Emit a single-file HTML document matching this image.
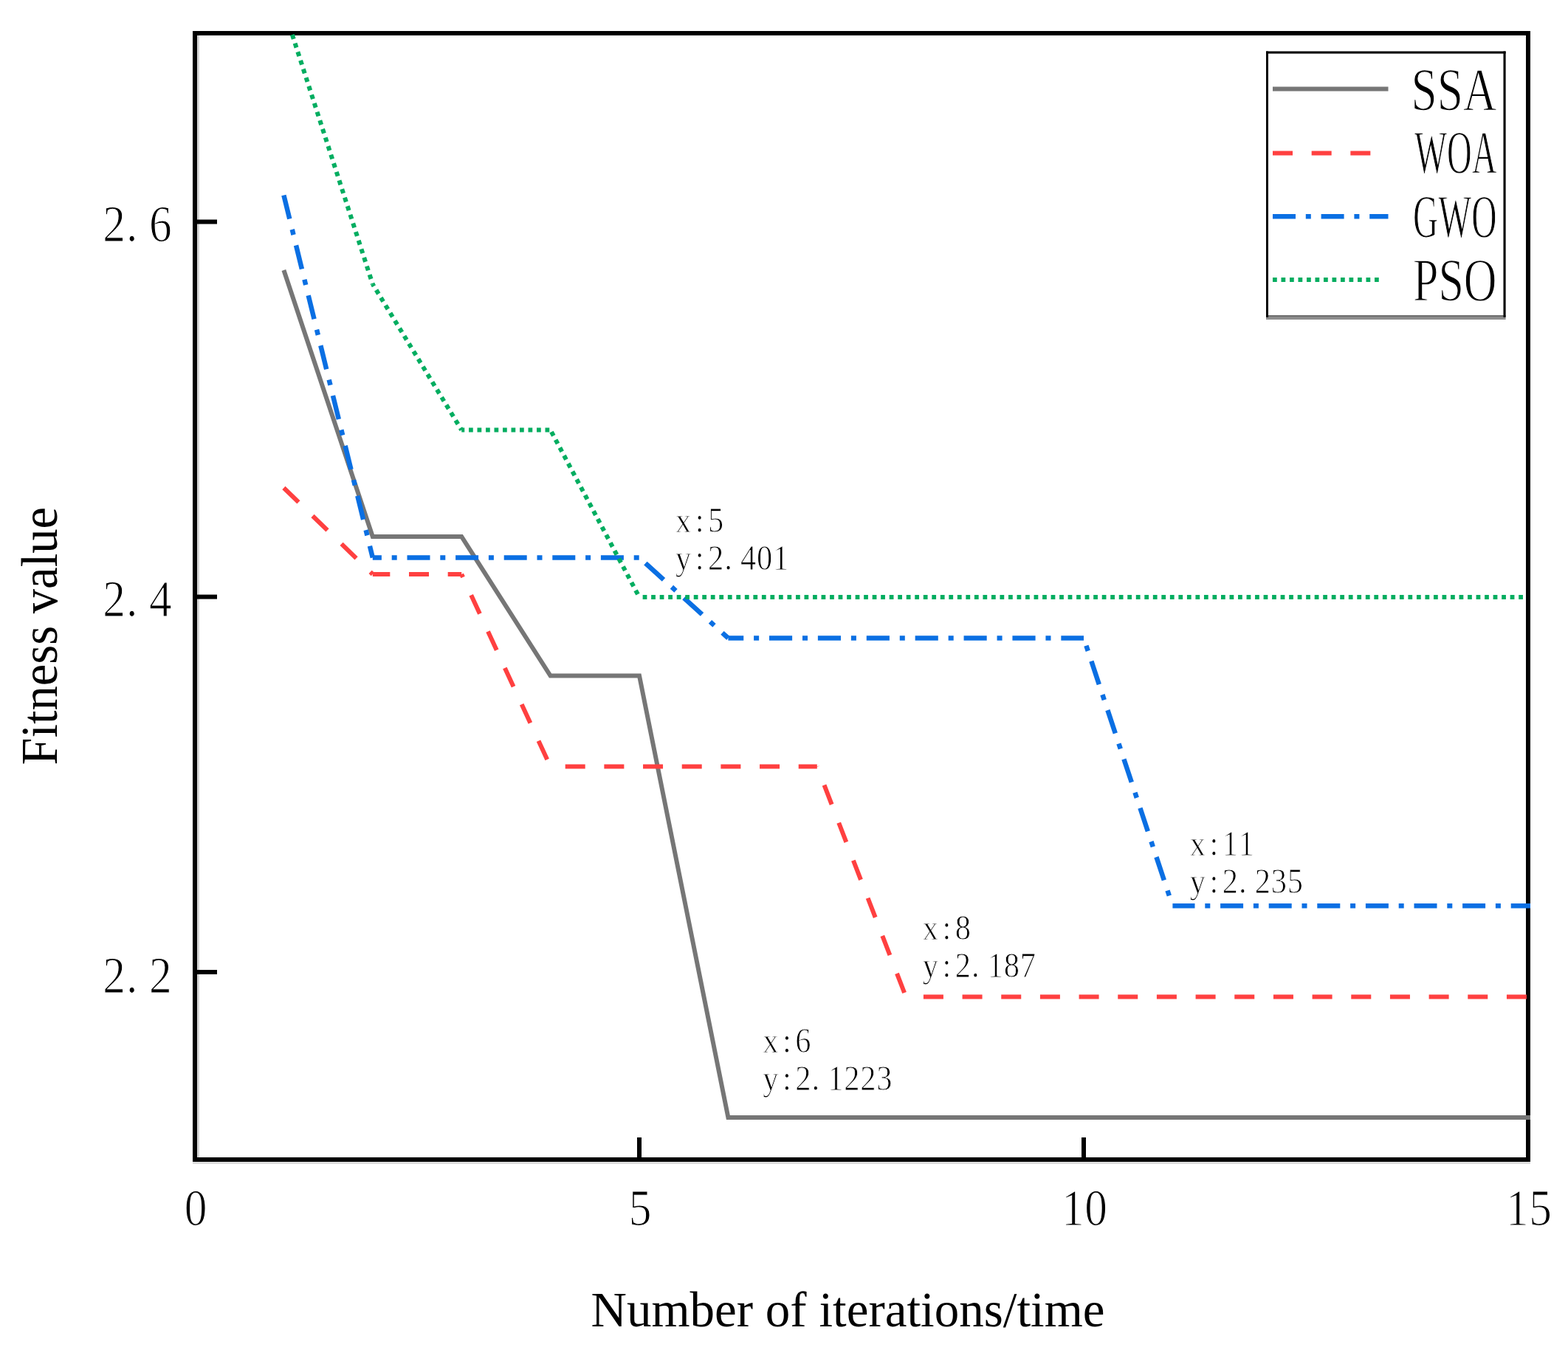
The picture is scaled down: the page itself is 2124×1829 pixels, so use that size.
<!DOCTYPE html>
<html><head><meta charset="utf-8"><title>Fitness value vs iterations</title>
<style>
html,body{margin:0;padding:0;background:#fff;}
body{width:2124px;height:1829px;overflow:hidden;}
svg{display:block;}
text{font-family:"Liberation Serif", "Noto Serif CJK SC", serif;fill:#000;}
</style></head><body>
<svg width="2124" height="1829" viewBox="0 0 2124 1829">
<rect x="0" y="0" width="2124" height="1829" fill="#fff"/>
<defs><clipPath id="pc"><rect x="264" y="45" width="1809" height="1526"/></clipPath></defs>

<rect x="267" y="48" width="3" height="1520" fill="#d3d3d3"/>
<rect x="261" y="1574" width="1812" height="3" fill="#dcdcdc"/>
<rect x="264" y="45" width="1806" height="1526" fill="none" stroke="#000" stroke-width="6"/>
<line x1="264" y1="300.5" x2="294" y2="300.5" stroke="#000" stroke-width="6"/>
<line x1="264" y1="808.6" x2="294" y2="808.6" stroke="#000" stroke-width="6"/>
<line x1="264" y1="1317.0" x2="294" y2="1317.0" stroke="#000" stroke-width="6"/>
<line x1="866.0" y1="1571" x2="866.0" y2="1541" stroke="#000" stroke-width="6"/>
<line x1="1468.0" y1="1571" x2="1468.0" y2="1541" stroke="#000" stroke-width="6"/>
<g clip-path="url(#pc)" fill="none" stroke-linecap="butt">
<path d="M384.4,366.0 L504.8,727.0 L625.2,727.0 L745.6,915.5 L866.0,915.5 L986.4,1514.0 L2073.0,1514.0" stroke="#767676" stroke-width="6" stroke-linejoin="miter"/>
<path d="M384.4,661.0 L504.8,778.0" stroke="#ff4040" stroke-width="6.0" stroke-dasharray="27.94 26.56" stroke-dashoffset="0.00"/>
<path d="M504.8,778.0 L625.2,778.0" stroke="#ff4040" stroke-width="6.0" stroke-dasharray="27.00 25.67" stroke-dashoffset="3.47"/>
<path d="M625.2,778.0 L745.6,1038.5" stroke="#ff4040" stroke-width="6.0" stroke-dasharray="27.89 26.51" stroke-dashoffset="23.40"/>
<path d="M745.6,1038.5 L1106.8,1038.5" stroke="#ff4040" stroke-width="6.0" stroke-dasharray="27.00 25.67" stroke-dashoffset="32.57"/>
<path d="M1106.8,1038.5 L1227.2,1350.5" stroke="#ff4040" stroke-width="6.0" stroke-dasharray="28.04 26.66" stroke-dashoffset="27.70"/>
<path d="M1227.2,1350.5 L2073.0,1350.5" stroke="#ff4040" stroke-width="6.0" stroke-dasharray="27.00 25.67" stroke-dashoffset="28.97"/>
<path d="M384.4,264.5 L504.8,755.5" stroke="#0a6fe3" stroke-width="6.5" stroke-dasharray="33.03 14.70 7.46 14.70" stroke-dashoffset="0.00"/>
<path d="M504.8,755.5 L866.0,755.5" stroke="#0a6fe3" stroke-width="6.5" stroke-dasharray="31.00 13.80 7.00 13.80" stroke-dashoffset="18.90"/>
<path d="M866.0,755.5 L986.4,864.5" stroke="#0a6fe3" stroke-width="6.5" stroke-dasharray="33.17 14.77 7.49 14.77" stroke-dashoffset="58.90"/>
<path d="M986.4,864.5 L1468.0,864.5" stroke="#0a6fe3" stroke-width="6.5" stroke-dasharray="31.14 13.86 7.03 13.86" stroke-dashoffset="10.30"/>
<path d="M1468.0,864.5 L1588.4,1227.3" stroke="#0a6fe3" stroke-width="6.5" stroke-dasharray="33.03 14.70 7.46 14.70" stroke-dashoffset="36.90"/>
<path d="M1588.4,1227.3 L2073.0,1227.3" stroke="#0a6fe3" stroke-width="6.5" stroke-dasharray="31.00 13.80 7.00 13.80" stroke-dashoffset="0.90"/>
<path d="M384.4,11.4 L504.8,385.0" stroke="#00ad60" stroke-width="6.0" stroke-dasharray="6.10 6.10" stroke-dashoffset="11.35"/>
<path d="M504.8,385.0 L625.2,582.5" stroke="#00ad60" stroke-width="6.0" stroke-dasharray="6.08 6.08" stroke-dashoffset="2.87"/>
<path d="M625.2,582.5 L745.6,582.5" stroke="#00ad60" stroke-width="6.0" stroke-dasharray="5.75 5.75" stroke-dashoffset="1.70"/>
<path d="M745.6,582.5 L866.0,809.0" stroke="#00ad60" stroke-width="6.0" stroke-dasharray="6.08 6.08" stroke-dashoffset="9.27"/>
<path d="M866.0,809.0 L2064.0,809.0" stroke="#00ad60" stroke-width="6.0" stroke-dasharray="5.76 5.76" stroke-dashoffset="6.89"/>
</g>
<g transform="scale(0.890 1)"><text x="173.60 200.76 244.16" y="326.8" font-size="69.0" text-anchor="middle" stroke="#fff" stroke-width="1.2">2.6</text></g>
<g transform="scale(0.890 1)"><text x="173.60 200.76 244.16" y="835.2" font-size="69.0" text-anchor="middle" stroke="#fff" stroke-width="1.2">2.4</text></g>
<g transform="scale(0.890 1)"><text x="173.60 200.76 244.16" y="1345.0" font-size="69.0" text-anchor="middle" stroke="#fff" stroke-width="1.2">2.2</text></g>
<g transform="scale(0.890 1)"><text x="297.75" y="1660.0" font-size="69.0" text-anchor="middle" stroke="#fff" stroke-width="1.2">0</text></g>
<g transform="scale(0.890 1)"><text x="974.16" y="1660.0" font-size="69.0" text-anchor="middle" stroke="#fff" stroke-width="1.2">5</text></g>
<g transform="scale(0.890 1)"><text x="1632.92 1668.20" y="1660.0" font-size="69.0" text-anchor="middle" stroke="#fff" stroke-width="1.2">10</text></g>
<g transform="scale(0.890 1)"><text x="2309.33 2344.61" y="1660.0" font-size="69.0" text-anchor="middle" stroke="#fff" stroke-width="1.2">15</text></g>
<text x="0" y="0" font-size="69" transform="translate(77.4 1036.5) rotate(-90)" textLength="349.5" lengthAdjust="spacingAndGlyphs">Fitness value</text>
<text x="800.5" y="1796.9" font-size="68" textLength="696" lengthAdjust="spacingAndGlyphs">Number of iterations/time</text>
<rect x="1715" y="69.5" width="324.6" height="363.5" fill="#fff"/>
<rect x="1715" y="427" width="324.6" height="2.8" fill="#6e6e6e"/>
<rect x="1715" y="429.8" width="324.6" height="3.2" fill="#8e8e8e"/>
<rect x="1715" y="69.5" width="324.6" height="3.1" fill="#000"/>
<rect x="1715" y="69.5" width="3" height="360.3" fill="#000"/>
<rect x="2036.5" y="69.5" width="3.1" height="360.3" fill="#000"/>
<line x1="1724" y1="120.4" x2="1880.5" y2="120.4" stroke="#767676" stroke-width="6"/>
<line x1="1724" y1="207.6" x2="1880.5" y2="207.6" stroke="#ff4040" stroke-width="6" stroke-dasharray="27 25.67"/>
<line x1="1724" y1="293.2" x2="1880.5" y2="293.2" stroke="#0a6fe3" stroke-width="6.5" stroke-dasharray="31 13.8 7 13.8"/>
<line x1="1724" y1="379.1" x2="1872" y2="379.1" stroke="#00ad60" stroke-width="6" stroke-dasharray="5.75 5.75"/>
<text x="1911.5" y="148.6" font-size="82" textLength="116.0" lengthAdjust="spacingAndGlyphs" stroke="#fff" stroke-width="1.4">SSA</text>
<text x="1916.0" y="233.6" font-size="82" textLength="111.5" lengthAdjust="spacingAndGlyphs" stroke="#fff" stroke-width="1.4">WOA</text>
<text x="1914.0" y="321.2" font-size="82" textLength="113.5" lengthAdjust="spacingAndGlyphs" stroke="#fff" stroke-width="1.4">GWO</text>
<text x="1914.0" y="406.5" font-size="82" textLength="113.5" lengthAdjust="spacingAndGlyphs" stroke="#fff" stroke-width="1.4">PSO</text>
<g transform="scale(0.880 1)"><text x="1051.93 1076.93 1101.93" y="721.0" font-size="48.4" text-anchor="middle" fill="#111" stroke="#fff" stroke-width="1">x:5</text></g>
<g transform="scale(0.880 1)"><text x="1051.93 1076.93 1101.93 1121.18 1151.93 1176.93 1201.93" y="772.0" font-size="48.4" text-anchor="middle" fill="#111" stroke="#fff" stroke-width="1">y:2.401</text></g>
<g transform="scale(0.880 1)"><text x="1186.36 1211.36 1236.36" y="1426.3" font-size="48.4" text-anchor="middle" fill="#111" stroke="#fff" stroke-width="1">x:6</text></g>
<g transform="scale(0.880 1)"><text x="1186.36 1211.36 1236.36 1255.61 1286.36 1311.36 1336.36 1361.36" y="1477.3" font-size="48.4" text-anchor="middle" fill="#111" stroke="#fff" stroke-width="1">y:2.1223</text></g>
<g transform="scale(0.880 1)"><text x="1432.39 1457.39 1482.39" y="1273.0" font-size="48.4" text-anchor="middle" fill="#111" stroke="#fff" stroke-width="1">x:8</text></g>
<g transform="scale(0.880 1)"><text x="1432.39 1457.39 1482.39 1501.64 1532.39 1557.39 1582.39" y="1324.0" font-size="48.4" text-anchor="middle" fill="#111" stroke="#fff" stroke-width="1">y:2.187</text></g>
<g transform="scale(0.880 1)"><text x="1843.75 1868.75 1893.75 1918.75" y="1159.4" font-size="48.4" text-anchor="middle" fill="#111" stroke="#fff" stroke-width="1">x:11</text></g>
<g transform="scale(0.880 1)"><text x="1843.75 1868.75 1893.75 1913.00 1943.75 1968.75 1993.75" y="1210.4" font-size="48.4" text-anchor="middle" fill="#111" stroke="#fff" stroke-width="1">y:2.235</text></g>
</svg></body></html>
